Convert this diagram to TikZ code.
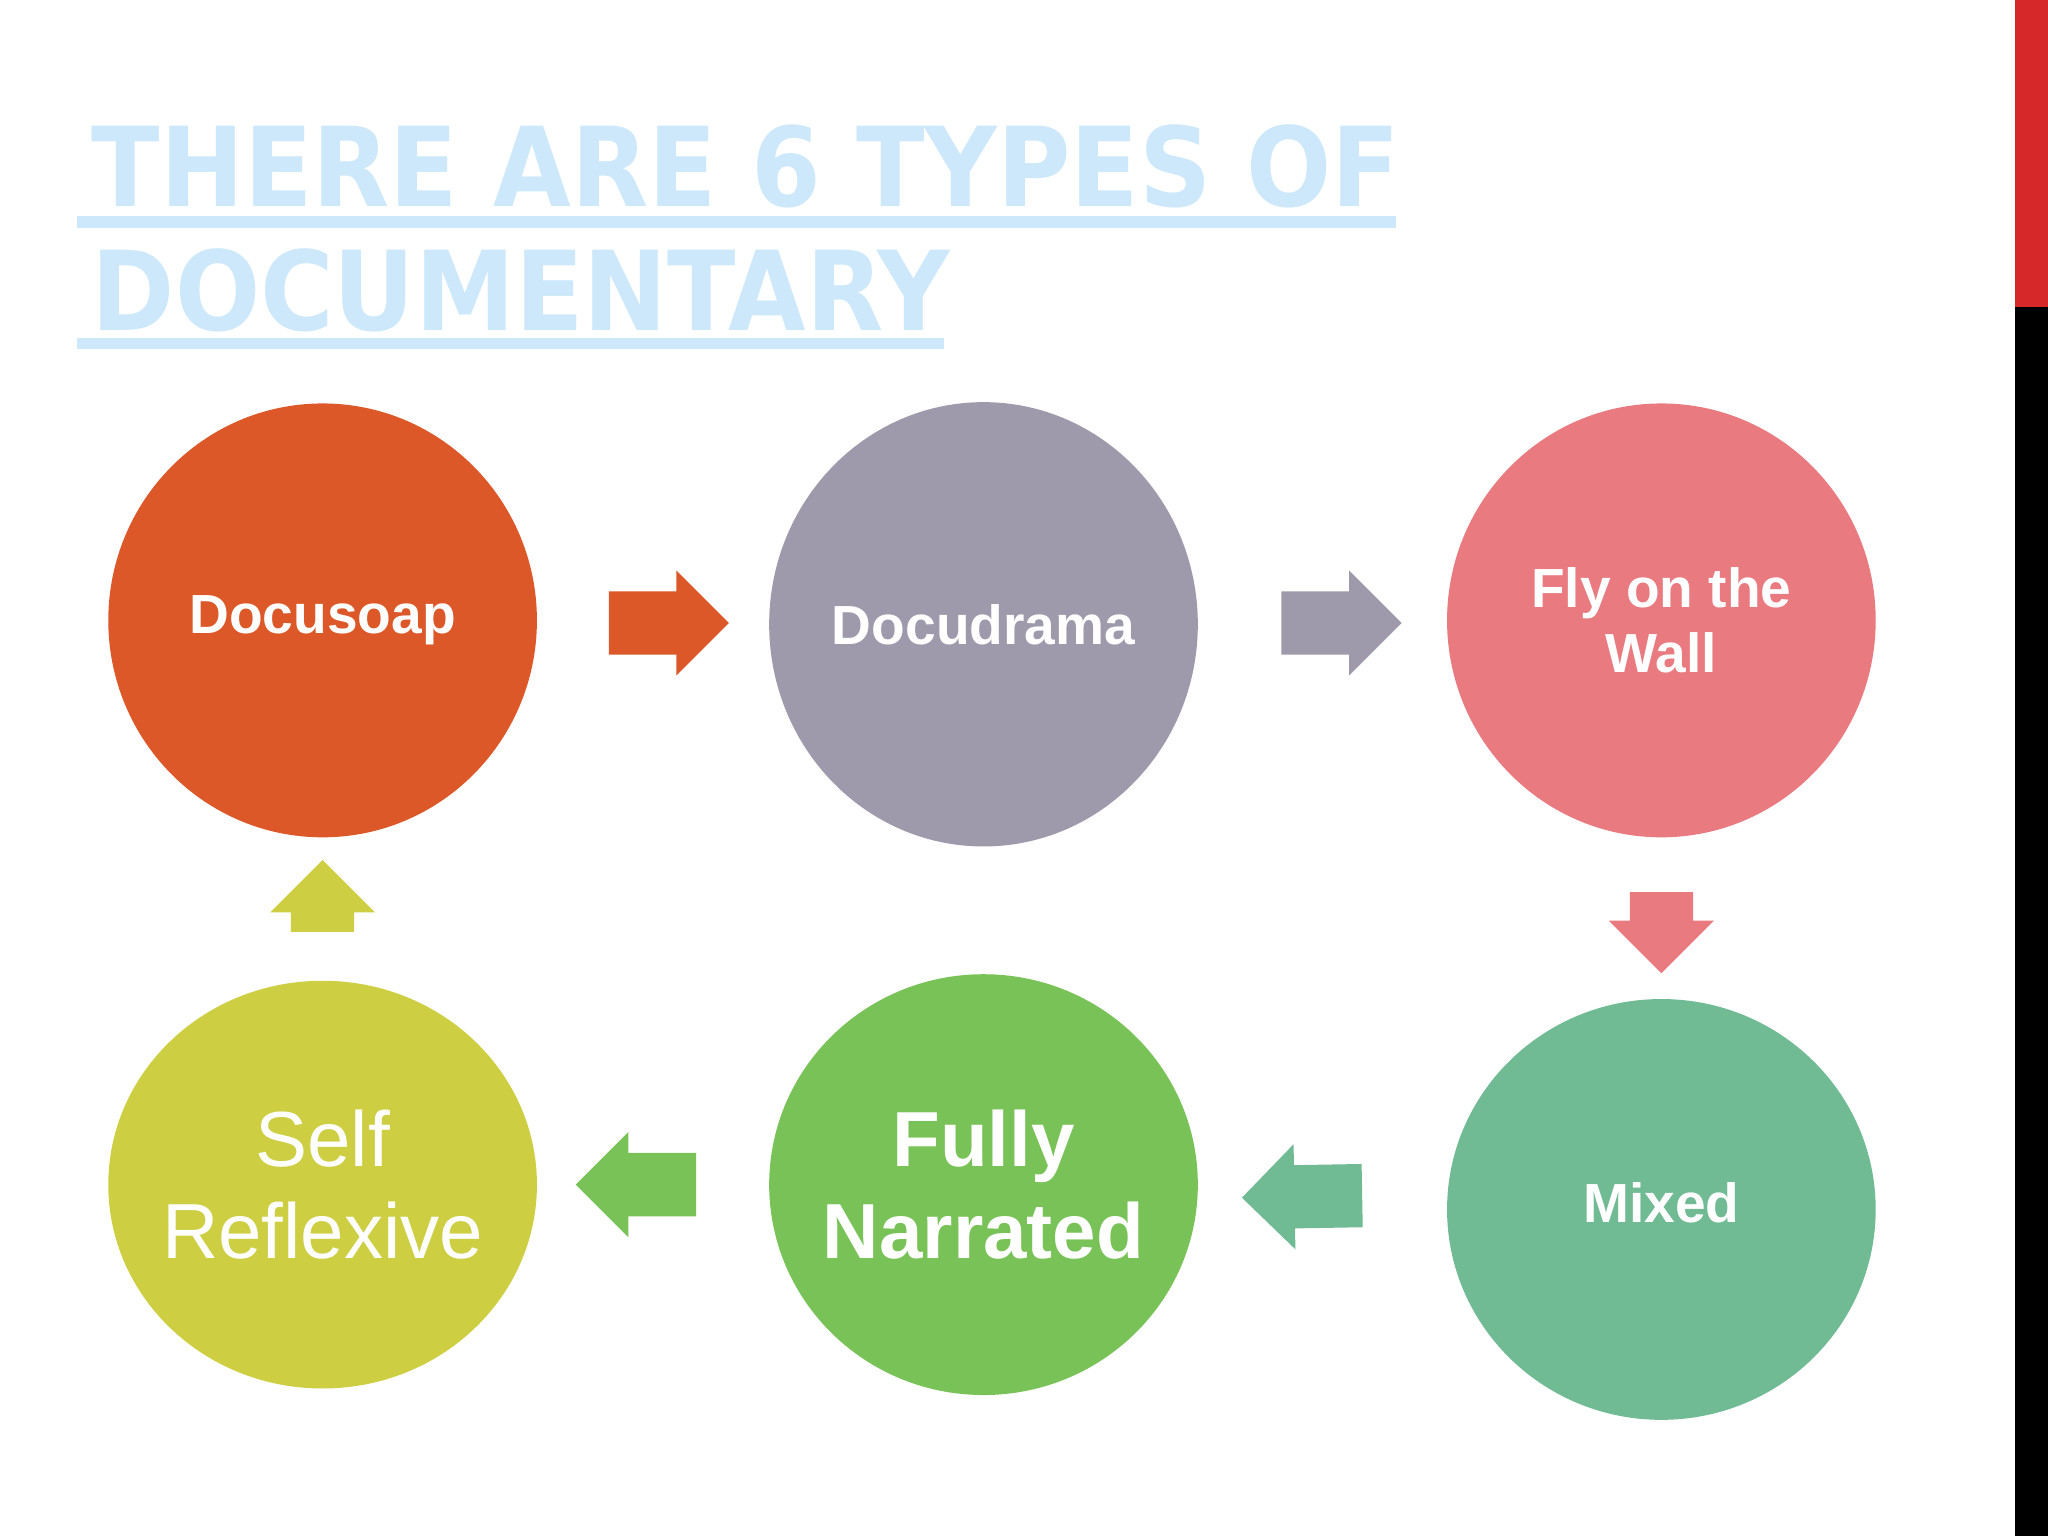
\documentclass[tikz,border=0pt]{standalone}
\usepackage{fontspec}
\setmainfont{Liberation Sans}
\newfontfamily\titlefont{DejaVu Sans}
\usetikzlibrary{shapes.geometric,shapes.arrows,calc}
\definecolor{titleblue}{RGB}{204, 232, 250}
\definecolor{soapcolor}{RGB}{220, 88, 40}
\definecolor{dramacolor}{RGB}{158, 154, 172}
\definecolor{flycolor}{RGB}{232, 122, 128}
\definecolor{mixedcolor}{RGB}{112, 186, 148}
\definecolor{narratedcolor}{RGB}{120, 194, 87}
\definecolor{reflexcolor}{RGB}{205, 206, 66}
\definecolor{barred}{RGB}{214, 40, 40}
\tikzset{
  kind/.style={ellipse, inner sep=0pt, minimum width=3.28cm, minimum height=3.32cm},
  kindtext/.style={text=white, align=center, font=\bfseries\fontsize{12}{13}\selectfont},
  blockarrow/.style={single arrow, inner xsep=0pt, minimum height=0.92cm, inner ysep=0.235cm, single arrow head extend=0.16cm},
  titletext/.style={anchor=base west, text=titleblue, xscale=0.91, font=\titlefont\bfseries\fontsize{24}{24}\selectfont}
}
\begin{document}
\begin{tikzpicture}[x=0.01cm,y=0.01cm]
    \useasboundingbox (0,0) rectangle (1568,1176);
    % Side bar
    \fill[barred] (1543,1176) rectangle (1568,941);
    \fill[black] (1543,941) rectangle (1568,0);

    % Title
    \node[titletext] (title1) at (59,1018) {THERE ARE 6 TYPES OF};
    \node[titletext] (title2) at (59,923) {DOCUMENTARY};
    \draw[titleblue, line width=2.5pt] (59,1006) -- (1069,1006);
    \draw[titleblue, line width=2.5pt] (59,913) -- (723,913);

    % Circles
    \node[kind, fill=soapcolor] (soap) at (247,701) {};
    \node[kindtext] at (soap) {Docusoap};
    \node[kind, fill=dramacolor, minimum height=3.4cm] (drama) at (753,698) {};
    \node[kindtext] at (drama) {Docudrama};
    \node[kind, fill=flycolor] (fly) at (1272,701) {};
    \node[kindtext, font=\bfseries\fontsize{12}{14}\selectfont] at (fly) {Fly on the\\Wall};
    \node[kind, fill=mixedcolor, minimum height=3.22cm] (mixed) at (1272,250) {};
    \node[kindtext] at ($(mixed)+(0,5)$) {Mixed};
    \node[kind, fill=narratedcolor, minimum height=3.22cm] (narrated) at (753,269) {};
    \node[kindtext, font=\bfseries\fontsize{17}{20}\selectfont] at (narrated) {Fully\\Narrated};
    \node[kind, fill=reflexcolor, minimum height=3.12cm] (reflex) at (247,269) {};
    \node[kindtext, font=\fontsize{17}{20}\selectfont] at (reflex) {Self\\Reflexive};

    % Arrows
    \node[blockarrow, fill=soapcolor] (a1) at (500,699) {};
    \node[blockarrow, fill=dramacolor] (a2) at (1015,699) {};
    \node[blockarrow, fill=flycolor, rotate=-90, minimum height=0.62cm] (a3) at (1272,474) {};
    \node[blockarrow, fill=mixedcolor, rotate=181] (a4) at (1009,260) {};
    \node[blockarrow, fill=narratedcolor, rotate=180] (a5) at (499,269) {};
    \node[blockarrow, fill=reflexcolor, rotate=90, minimum height=0.55cm] (a6) at (247,478) {};
\end{tikzpicture}
\end{document}
